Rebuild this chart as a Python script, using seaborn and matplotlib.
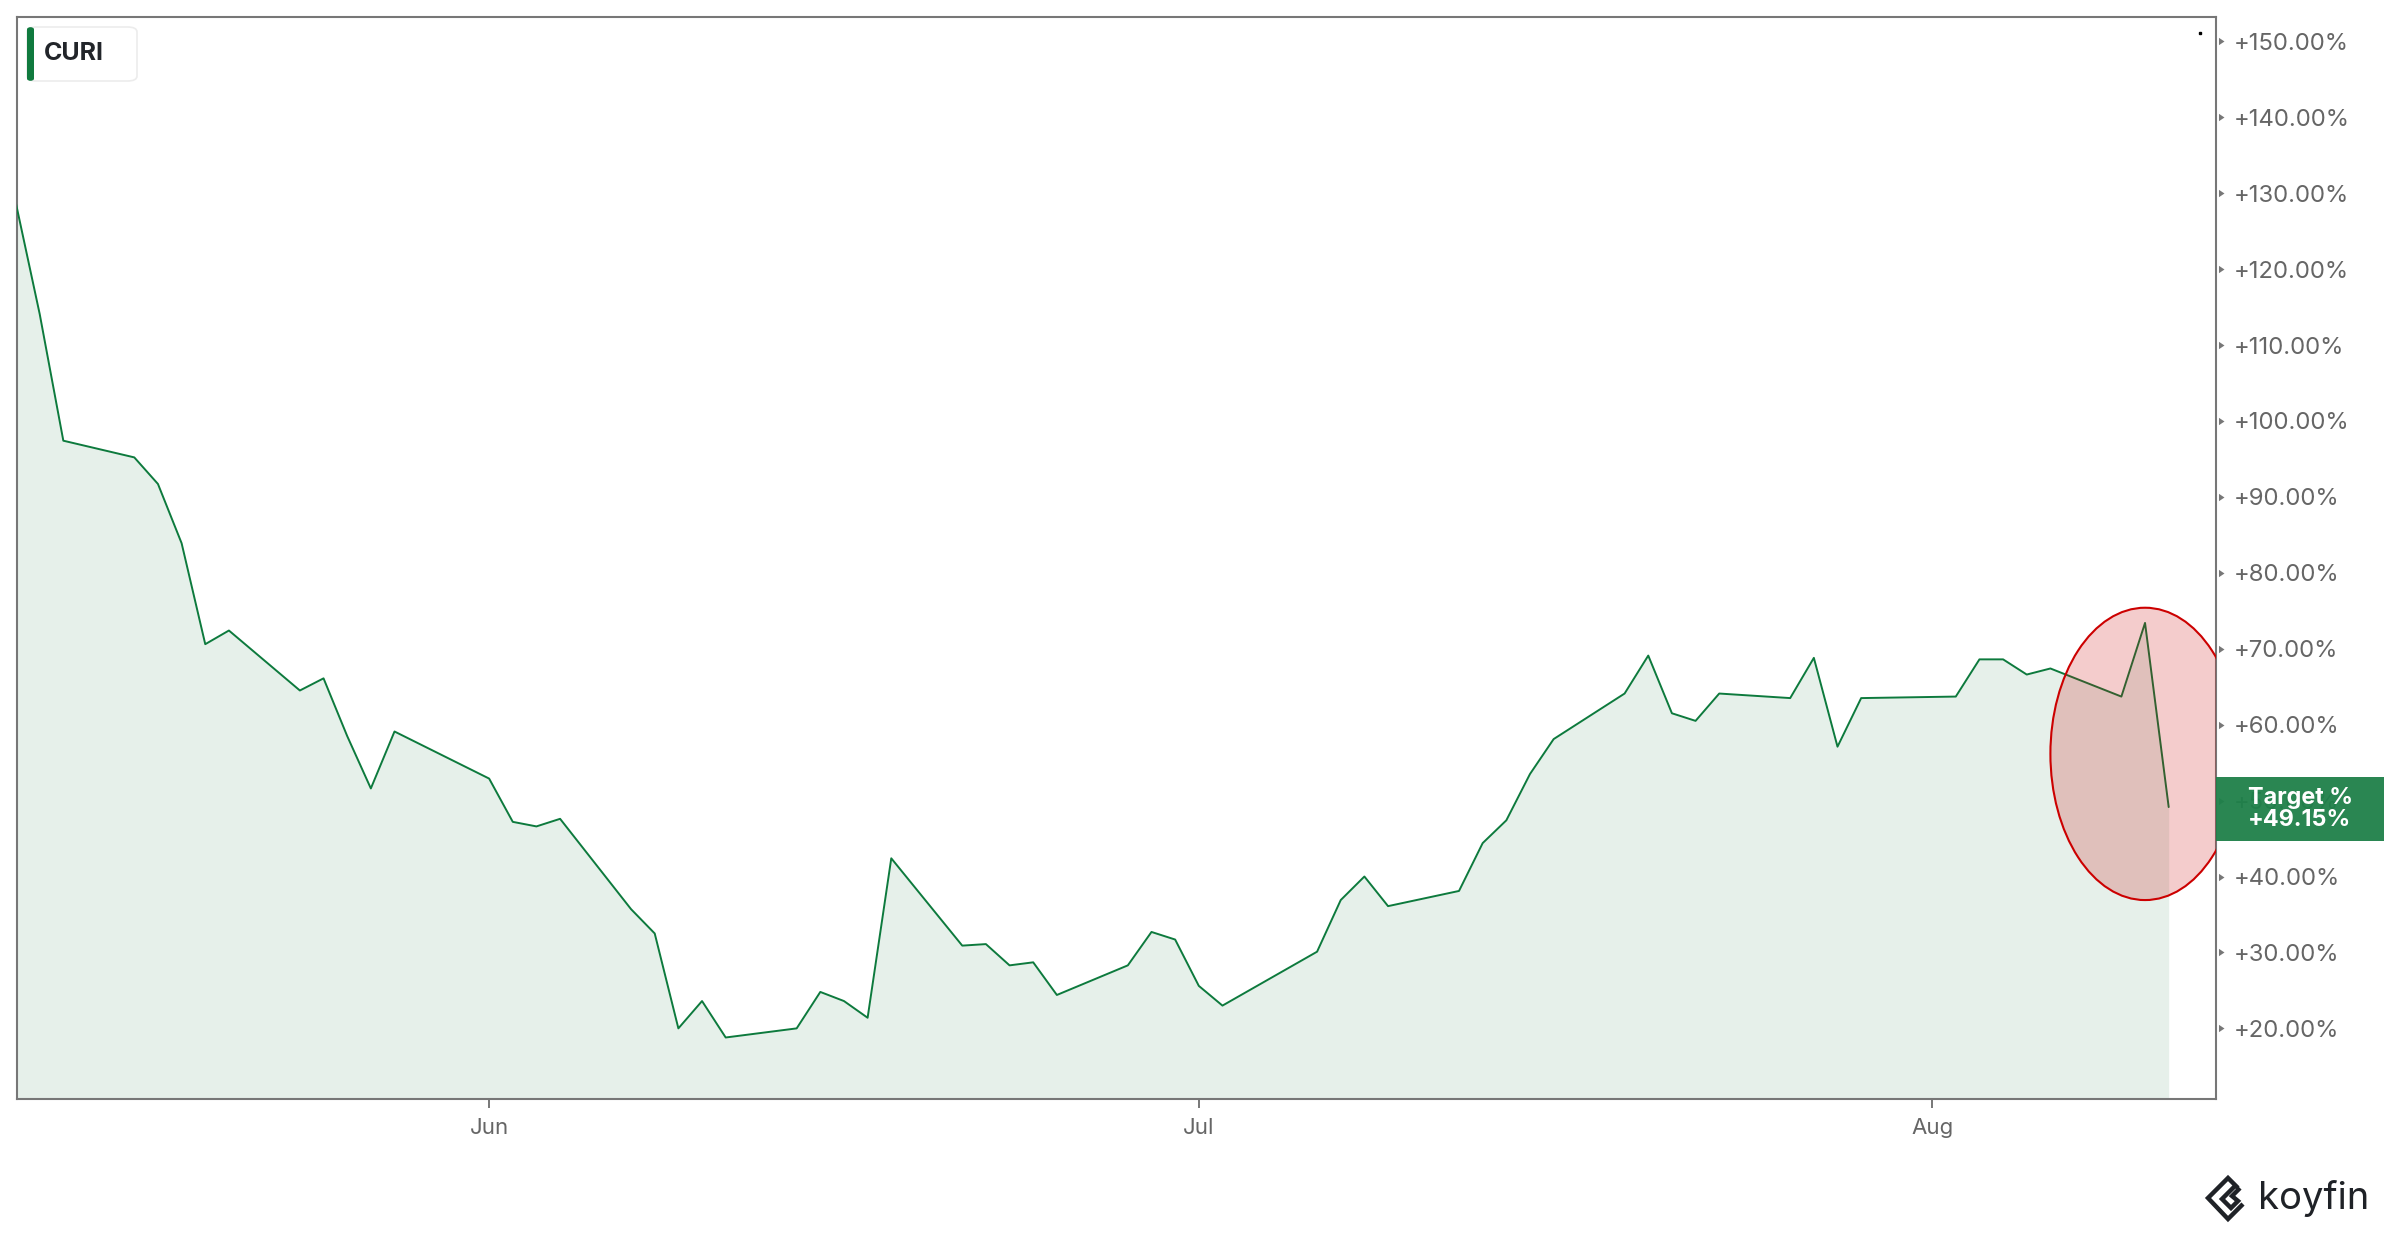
import numpy as np
import pandas as pd
import matplotlib
matplotlib.use("Agg")
import matplotlib.pyplot as plt
import matplotlib.dates as mdates
import matplotlib.transforms as mtransforms
from matplotlib.patches import Ellipse, Rectangle, FancyBboxPatch
from matplotlib.lines import Line2D
import seaborn as sns

# ---------------- data ----------------
dates = [
    "2021-05-12", "2021-05-13", "2021-05-14", "2021-05-17", "2021-05-18", "2021-05-19",
    "2021-05-20", "2021-05-21", "2021-05-24", "2021-05-25", "2021-05-26", "2021-05-27",
    "2021-05-28", "2021-06-01", "2021-06-02", "2021-06-03", "2021-06-04", "2021-06-07",
    "2021-06-08", "2021-06-09", "2021-06-10", "2021-06-11", "2021-06-14", "2021-06-15",
    "2021-06-16", "2021-06-17", "2021-06-18", "2021-06-21", "2021-06-22", "2021-06-23",
    "2021-06-24", "2021-06-25", "2021-06-28", "2021-06-29", "2021-06-30", "2021-07-01",
    "2021-07-02", "2021-07-06", "2021-07-07", "2021-07-08", "2021-07-09", "2021-07-12",
    "2021-07-13", "2021-07-14", "2021-07-15", "2021-07-16", "2021-07-19", "2021-07-20",
    "2021-07-21", "2021-07-22", "2021-07-23", "2021-07-26", "2021-07-27", "2021-07-28",
    "2021-07-29", "2021-08-02", "2021-08-03", "2021-08-04", "2021-08-05", "2021-08-06",
    "2021-08-09", "2021-08-10", "2021-08-11",
]
target_pct = [
    128.6, 114.1, 97.4, 95.2, 91.7, 83.9,
    70.6, 72.4, 64.5, 66.1, 58.5, 51.6,
    59.1, 52.9, 47.2, 46.6, 47.6, 35.7,
    32.5, 20.0, 23.6, 18.8, 20.0, 24.8,
    23.6, 21.4, 42.4, 30.9, 31.1, 28.3,
    28.7, 24.4, 28.3, 32.7, 31.7, 25.6,
    23.0, 30.1, 36.9, 40.0, 36.1, 38.1,
    44.4, 47.4, 53.5, 58.1, 64.1, 69.1,
    61.5, 60.5, 64.1, 63.5, 68.8, 57.1,
    63.5, 63.7, 68.6, 68.6, 66.6, 67.4,
    63.7, 73.4, 49.15,
]
ticker = "CURI"
y_ticks = [20, 30, 40, 50, 60, 70, 80, 90, 100, 110, 120, 130, 140, 150]
last_label = "Target %\n+49.15%"

df = pd.DataFrame({"date": pd.to_datetime(dates), "pct": target_pct})

# ---------------- style ----------------
sns.set_theme(style="white")
plt.rcParams["font.family"] = ["Inter", "Roboto", "DejaVu Sans"]

W, H = 2400, 1240
fig = plt.figure(figsize=(24, 12.4), dpi=100)
L, R, T, B = 17, 2216, 17, 1099
ax = fig.add_axes([L / W, 1 - B / H, (R - L) / W, (B - T) / H])

line_c = "#0d7a3d"
fill_c = "#e6f0ea"
grey = "#666666"
spine_c = "#777777"

ax.fill_between(df["date"], df["pct"], 0, color=fill_c, lw=0, zorder=1)
sns.lineplot(data=df, x="date", y="pct", ax=ax, color=line_c, lw=1.4, zorder=3)

ax.set_xlim(pd.Timestamp("2021-05-12 01:00"), pd.Timestamp("2021-08-13 00:00"))
ax.set_ylim(10.7, 153.2)

# spines
for s in ax.spines.values():
    s.set_color(spine_c)
    s.set_linewidth(1.5)

ax.set_xlabel("")
ax.set_ylabel("")

# x axis
ax.xaxis.set_major_locator(mdates.MonthLocator())
ax.xaxis.set_major_formatter(mdates.DateFormatter("%b"))
ax.tick_params(axis="x", direction="out", length=6.5, width=1.4, color=spine_c,
               labelsize=16, labelcolor=grey, pad=7, bottom=True)

# y axis on right, with caret markers
ax.yaxis.tick_right()
ax.set_yticks(y_ticks)
ax.set_yticklabels([f"+{v:.2f}%" for v in y_ticks])
ax.tick_params(axis="y", length=0, labelsize=17.2, labelcolor=grey, pad=13,
               right=True, left=False)
trans = mtransforms.blended_transform_factory(ax.transAxes, ax.transData)
ax.scatter([1.0035] * len(y_ticks), y_ticks, marker=5, s=28, color=spine_c,
           transform=trans, clip_on=False, zorder=5, linewidths=0)

# red ellipse highlight
ell_center_x = mdates.date2num(pd.Timestamp("2021-08-10"))
ell = Ellipse((ell_center_x, 56.15), width=8.0, height=38.5,
              facecolor=(0.8, 0, 0, 0.2), edgecolor="#cc0000", lw=1.5,
              zorder=4, clip_on=True)
ax.add_patch(ell)

# target label box at right
last_val = target_pct[-1]
box_h = 64 / ((B - T) / (153.2 - 10.7))
ax.add_patch(Rectangle((1.0, last_val - box_h / 2 - 0.3), 168 / (R - L), box_h,
                       transform=trans, clip_on=False, facecolor="#1e8049",
                       alpha=0.95, edgecolor="none", zorder=6))
ax.text(1.0 + 84 / (R - L), last_val - 0.3, last_label, transform=trans,
        ha="center", va="center", color="white", fontsize=16.8,
        fontweight="bold", linespacing=1.0, zorder=7, clip_on=False)

# small speck top right
ax.plot([0.9926], [0.985], transform=ax.transAxes, marker="s", ms=1.6,
        color="black", zorder=5, clip_on=False)

# legend chip
def fx(px):
    return px / W

def fy(py):
    return 1 - py / H

fig.patches.append(FancyBboxPatch((fx(27), fy(81)), fx(137) - fx(27), fy(27) - fy(81),
                                  boxstyle="round,pad=0,rounding_size=0.004",
                                  transform=fig.transFigure, facecolor="white",
                                  edgecolor="#ececec", lw=1.2, zorder=10))
fig.patches.append(FancyBboxPatch((fx(27), fy(81)), fx(34) - fx(27), fy(27) - fy(81),
                                  boxstyle="round,pad=0,rounding_size=0.002",
                                  transform=fig.transFigure, facecolor="#107a3e",
                                  edgecolor="none", zorder=11))
fig.text(fx(44), fy(54), ticker, ha="left", va="center", fontsize=18,
         fontweight="bold", color="#22252a", zorder=12)

# koyfin logo
icon_c = "#1f2227"
outer = [(2238, 1188), (2228, 1178), (2208, 1198), (2228, 1219), (2243, 1204)]
inner = [(2236, 1185), (2222, 1199), (2231, 1208), (2238, 1201), (2232, 1196), (2240, 1188)]
for pts in (outer, inner):
    xs = [fx(p[0]) for p in pts]
    ys = [fy(p[1]) for p in pts]
    fig.add_artist(Line2D(xs, ys, transform=fig.transFigure, color=icon_c, lw=3.2,
                          solid_joinstyle="miter", solid_capstyle="butt"))
fig.text(fx(2258), fy(1199), "koyfin", ha="left", va="center", fontsize=27.5,
         color=icon_c)

fig.savefig("out.png", dpi=100)
